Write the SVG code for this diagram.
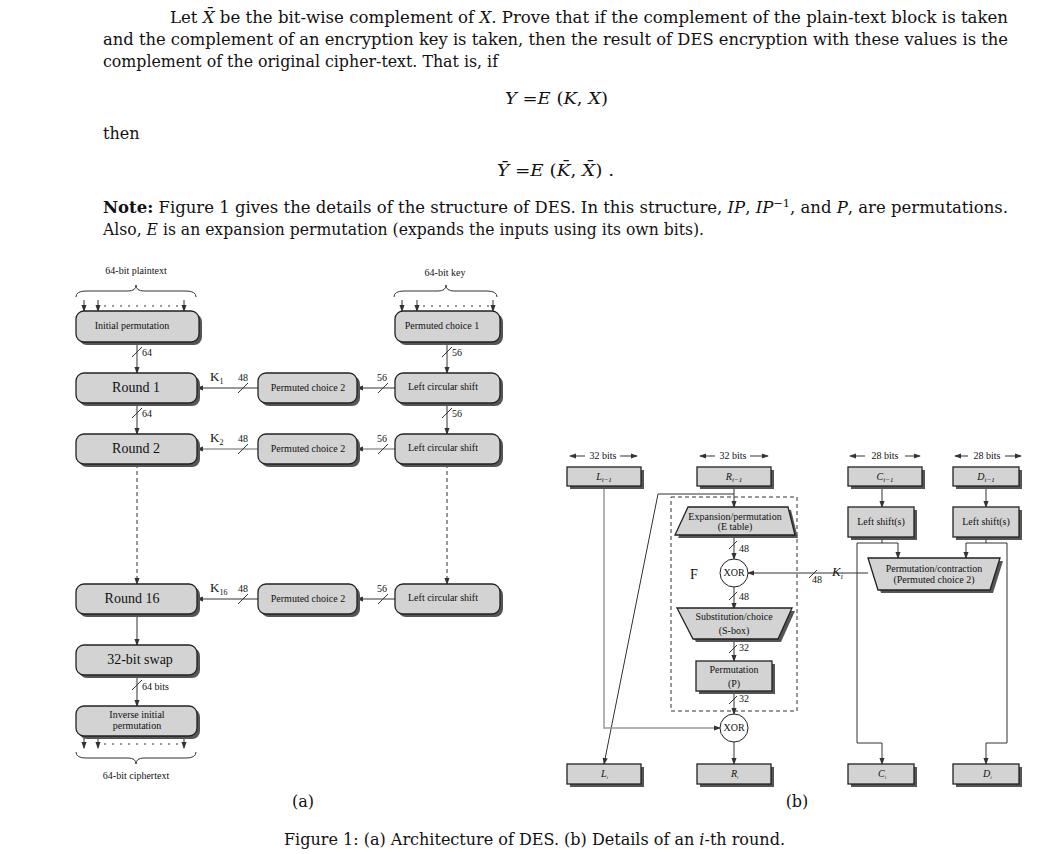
<svg xmlns="http://www.w3.org/2000/svg" width="1051" height="854" viewBox="0 0 1051 854">
<style>
text{font-family:"Liberation Serif",serif;fill:#111}
.p{font-size:16px;font-family:"DejaVu Serif",serif}
.s{font-size:10px}
.m{font-size:13px}
.r{font-size:14px}
.i{font-style:italic}
.box{fill:#d3d3d3;stroke:#222;stroke-width:1.3}
.sh{fill:#555}
.ln{stroke:#333;stroke-width:1;fill:none}
.gl{stroke:#999;stroke-width:1.5;fill:none}
.da{stroke:#333;stroke-width:1;fill:none;stroke-dasharray:4,3}
</style>
<defs>
<marker id="a" viewBox="0 0 8 8" refX="7" refY="4" markerWidth="7" markerHeight="7" orient="auto" markerUnits="userSpaceOnUse"><path d="M0,1 L8,4 L0,7 z" fill="#333"/></marker>
</defs>
<g id="text">
<text class="p" x="170" y="23" textLength="838" lengthAdjust="spacingAndGlyphs">Let <tspan class="i">X̄</tspan> be the bit-wise complement of <tspan class="i">X</tspan>. Prove that if the complement of the plain-text block is taken</text>
<text class="p" x="103" y="45" textLength="905" lengthAdjust="spacingAndGlyphs">and the complement of an encryption key is taken, then the result of DES encryption with these values is the</text>
<text class="p" x="103" y="67" textLength="395" lengthAdjust="spacingAndGlyphs">complement of the original cipher-text. That is, if</text>
<text class="p" x="505" y="104" textLength="103" lengthAdjust="spacingAndGlyphs"><tspan class="i">Y</tspan> =<tspan class="i">E</tspan> (<tspan class="i">K</tspan>, <tspan class="i">X</tspan>)</text>
<text class="p" x="103" y="139">then</text>
<text class="p" x="497" y="176" textLength="117" lengthAdjust="spacingAndGlyphs"><tspan class="i">Ȳ</tspan> =<tspan class="i">E</tspan> (<tspan class="i">K̄</tspan>, <tspan class="i">X̄</tspan>) .</text>
<text class="p" x="103" y="213" textLength="905" lengthAdjust="spacingAndGlyphs"><tspan font-weight="bold">Note:</tspan> Figure 1 gives the details of the structure of DES. In this structure, <tspan class="i">IP</tspan>, <tspan class="i">IP</tspan><tspan font-size="11" dy="-6">−1</tspan><tspan dy="6">, and </tspan><tspan class="i">P</tspan>, are permutations.</text>
<text class="p" x="103" y="235" textLength="601" lengthAdjust="spacingAndGlyphs">Also, <tspan class="i">E</tspan> is an expansion permutation (expands the inputs using its own bits).</text>
<text class="p" x="303" y="807" text-anchor="middle">(a)</text>
<text class="p" x="797" y="807" text-anchor="middle">(b)</text>
<text class="p" x="284" y="845" textLength="501" lengthAdjust="spacingAndGlyphs">Figure 1: (a) Architecture of DES. (b) Details of an <tspan class="i">i</tspan>-th round.</text>
</g>

<g id="connectors">
<path class="ln" d="M76,297 Q76,291 86,291 L128,291 Q136,291 136,285 Q136,291 144,291 L186,291 Q196,291 196,297"/>
<path class="ln" d="M394,297 Q394,291 404,291 L438,291 Q446,291 446,285 Q446,291 454,291 L487,291 Q497,291 497,297"/>
<line class="ln" x1="84" y1="300" x2="84" y2="311" marker-end="url(#a)"/>
<line class="ln" x1="98" y1="300" x2="98" y2="311" marker-end="url(#a)"/>
<line class="ln" x1="184" y1="300" x2="184" y2="311" marker-end="url(#a)"/>
<line class="ln" x1="402" y1="300" x2="402" y2="311" marker-end="url(#a)"/>
<line class="ln" x1="417" y1="300" x2="417" y2="311" marker-end="url(#a)"/>
<line class="ln" x1="493" y1="300" x2="493" y2="311" marker-end="url(#a)"/>
<path class="ln" stroke-dasharray="2,6" stroke-width="2.5" d="M104,306 H178 M423,306 H490"/>
<line class="ln" x1="137" y1="342" x2="137" y2="373" marker-end="url(#a)"/>
<line class="ln" x1="137" y1="403" x2="137" y2="434" marker-end="url(#a)"/>
<line class="da" x1="137" y1="464" x2="137" y2="584" marker-end="url(#a)" stroke-dasharray="6,4"/>
<line class="ln" x1="137" y1="614" x2="137" y2="645" marker-end="url(#a)"/>
<line class="ln" x1="137" y1="675" x2="137" y2="706" marker-end="url(#a)"/>
<line class="ln" x1="447" y1="342" x2="447" y2="373" marker-end="url(#a)"/>
<line class="ln" x1="447" y1="403" x2="447" y2="434" marker-end="url(#a)"/>
<line class="da" x1="447" y1="464" x2="447" y2="584" marker-end="url(#a)" stroke-dasharray="6,4"/>
<path class="ln" d="M132,357 l10,-10 M132,418 l10,-10 M132,690 l10,-10 M442,357 l10,-10 M442,418 l10,-10"/>
<line class="ln" x1="258" y1="388" x2="197" y2="388" marker-end="url(#a)"/>
<line class="ln" x1="395" y1="388" x2="357" y2="388" marker-end="url(#a)"/>
<line class="gl" x1="258" y1="449" x2="197" y2="449" marker-end="url(#a)"/>
<line class="gl" x1="395" y1="449" x2="357" y2="449" marker-end="url(#a)"/>
<line class="ln" x1="258" y1="599" x2="197" y2="599" marker-end="url(#a)"/>
<line class="ln" x1="395" y1="599" x2="357" y2="599" marker-end="url(#a)"/>
<path class="ln" d="M238,393 l10,-10 M378,393 l10,-10 M238,454 l10,-10 M378,454 l10,-10 M238,604 l10,-10 M378,604 l10,-10"/>
<line class="ln" x1="84" y1="737" x2="84" y2="748" marker-end="url(#a)"/>
<line class="ln" x1="98" y1="737" x2="98" y2="748" marker-end="url(#a)"/>
<line class="ln" x1="184" y1="737" x2="184" y2="748" marker-end="url(#a)"/>
<path class="ln" stroke-dasharray="2,6" stroke-width="2.5" d="M104,744 H178"/>
<path class="ln" d="M76,752 Q76,758 86,758 L128,758 Q136,758 136,764 Q136,758 144,758 L186,758 Q196,758 196,752"/>

<line class="ln" x1="585" y1="456" x2="570" y2="456" marker-end="url(#a)"/>
<line class="ln" x1="620" y1="456" x2="637" y2="456" marker-end="url(#a)"/>
<line class="ln" x1="715" y1="456" x2="700" y2="456" marker-end="url(#a)"/>
<line class="ln" x1="750" y1="456" x2="768" y2="456" marker-end="url(#a)"/>
<line class="ln" x1="865" y1="456" x2="850" y2="456" marker-end="url(#a)"/>
<line class="ln" x1="905" y1="456" x2="920" y2="456" marker-end="url(#a)"/>
<line class="ln" x1="968" y1="456" x2="955" y2="456" marker-end="url(#a)"/>
<line class="ln" x1="1005" y1="456" x2="1021" y2="456" marker-end="url(#a)"/>
<path class="ln" d="M734,486 V494 H658 L604,764" marker-end="url(#a)"/>
<line class="ln" x1="734" y1="494" x2="734" y2="507" marker-end="url(#a)"/>
<rect class="da" x="671" y="497" width="126" height="214"/>
<line class="ln" x1="734" y1="536" x2="734" y2="559" marker-end="url(#a)"/>
<line class="ln" x1="734" y1="587" x2="734" y2="609" marker-end="url(#a)"/>
<line class="ln" x1="734" y1="640" x2="734" y2="661" marker-end="url(#a)"/>
<line class="ln" x1="734" y1="691" x2="734" y2="714" marker-end="url(#a)"/>
<line class="ln" x1="734" y1="742" x2="734" y2="764" marker-end="url(#a)"/>
<path class="ln" d="M729,549 l8,-8 M729,600 l8,-8 M729,653 l8,-8 M729,704 l8,-8 M809,578 l8,-8"/>
<line class="ln" x1="868" y1="573" x2="748" y2="573" marker-end="url(#a)"/>
<path class="gl" d="M604,486 V728 H720" marker-end="url(#a)"/>
<line class="ln" x1="882" y1="486" x2="882" y2="507" marker-end="url(#a)"/>
<line class="ln" x1="986" y1="486" x2="986" y2="507" marker-end="url(#a)"/>
<path class="ln" d="M882,537 V543 H898 V558" marker-end="url(#a)"/>
<path class="ln" d="M882,543 H857 V743 H882 V764" marker-end="url(#a)"/>
<path class="ln" d="M986,537 V543 H966 V558" marker-end="url(#a)"/>
<path class="ln" d="M986,543 H1007 V743 H986 V764" marker-end="url(#a)"/>
</g>

<g id="initial-permutation"><rect class="sh" x="79" y="314" width="123" height="31" rx="8"/><rect class="box" x="76" y="311" width="123" height="31" rx="8"/><text class="s" x="132" y="329" text-anchor="middle">Initial permutation</text></g>
<g id="round1"><rect class="sh" x="79" y="376" width="121" height="30" rx="8"/><rect class="box" x="76" y="373" width="121" height="30" rx="8"/><text class="r" x="136" y="392" text-anchor="middle">Round 1</text></g>
<g id="round2"><rect class="sh" x="79" y="437" width="121" height="30" rx="8"/><rect class="box" x="76" y="434" width="121" height="30" rx="8"/><text class="r" x="136" y="453" text-anchor="middle">Round 2</text></g>
<g id="round16"><rect class="sh" x="79" y="587" width="121" height="30" rx="8"/><rect class="box" x="76" y="584" width="121" height="30" rx="8"/><text class="r" x="132" y="603" text-anchor="middle">Round 16</text></g>
<g id="swap"><rect class="sh" x="79" y="648" width="121" height="30" rx="8"/><rect class="box" x="76" y="645" width="121" height="30" rx="8"/><text class="r" x="140" y="664" text-anchor="middle">32-bit swap</text></g>
<g id="inverse-ip"><rect class="sh" x="79" y="709" width="121" height="30" rx="8"/><rect class="box" x="76" y="706" width="121" height="30" rx="8"/><text class="s" x="137" y="718" text-anchor="middle">Inverse initial</text><text class="s" x="137" y="729" text-anchor="middle">permutation</text></g>
<g id="pc1"><rect class="sh" x="398" y="314" width="105" height="31" rx="8"/><rect class="box" x="395" y="311" width="105" height="31" rx="8"/><text class="s" x="442" y="329" text-anchor="middle">Permuted choice 1</text></g>
<g id="lcs1"><rect class="sh" x="398" y="376" width="105" height="30" rx="8"/><rect class="box" x="395" y="373" width="105" height="30" rx="8"/><text class="s" x="443" y="390" text-anchor="middle">Left circular shift</text></g>
<g id="lcs2"><rect class="sh" x="398" y="437" width="105" height="30" rx="8"/><rect class="box" x="395" y="434" width="105" height="30" rx="8"/><text class="s" x="443" y="451" text-anchor="middle">Left circular shift</text></g>
<g id="lcs16"><rect class="sh" x="398" y="587" width="105" height="30" rx="8"/><rect class="box" x="395" y="584" width="105" height="30" rx="8"/><text class="s" x="443" y="601" text-anchor="middle">Left circular shift</text></g>
<g id="pc2-1"><rect class="sh" x="261" y="376" width="99" height="30" rx="8"/><rect class="box" x="258" y="373" width="99" height="30" rx="8"/><text class="s" x="308" y="391" text-anchor="middle">Permuted choice 2</text></g>
<g id="pc2-2"><rect class="sh" x="261" y="437" width="99" height="30" rx="8"/><rect class="box" x="258" y="434" width="99" height="30" rx="8"/><text class="s" x="308" y="452" text-anchor="middle">Permuted choice 2</text></g>
<g id="pc2-16"><rect class="sh" x="261" y="587" width="99" height="30" rx="8"/><rect class="box" x="258" y="584" width="99" height="30" rx="8"/><text class="s" x="308" y="602" text-anchor="middle">Permuted choice 2</text></g>
<g id="left-labels">
<text class="s" x="136" y="274" text-anchor="middle">64-bit plaintext</text>
<text class="s" x="445" y="276" text-anchor="middle">64-bit key</text>
<text class="s" x="142" y="356">64</text><text class="s" x="142" y="417">64</text><text class="s" x="142" y="690">64 bits</text>
<text class="s" x="452" y="356">56</text><text class="s" x="452" y="417">56</text>
<text class="m" x="210" y="381">K<tspan font-size="8" dy="3">1</tspan></text><text class="s" x="238" y="381">48</text><text class="s" x="377" y="381">56</text>
<text class="m" x="210" y="442">K<tspan font-size="8" dy="3">2</tspan></text><text class="s" x="238" y="442">48</text><text class="s" x="377" y="442">56</text>
<text class="m" x="210" y="592">K<tspan font-size="8" dy="3">16</tspan></text><text class="s" x="238" y="592">48</text><text class="s" x="377" y="592">56</text>
<text class="s" x="136" y="779" text-anchor="middle">64-bit ciphertext</text>
</g>

<g id="Li-1"><rect class="sh" x="570" y="470" width="74" height="19"/><rect class="box" x="567" y="467" width="74" height="19"/><text class="s i" x="604" y="480" text-anchor="middle">L<tspan font-size="7" dy="2">i−1</tspan></text></g>
<g id="Ri-1"><rect class="sh" x="700" y="470" width="74" height="19"/><rect class="box" x="697" y="467" width="74" height="19"/><text class="s i" x="734" y="480" text-anchor="middle">R<tspan font-size="7" dy="2">i−1</tspan></text></g>
<g id="Ci-1"><rect class="sh" x="851" y="470" width="74" height="19"/><rect class="box" x="848" y="467" width="74" height="19"/><text class="s i" x="885" y="480" text-anchor="middle">C<tspan font-size="7" dy="2">i−1</tspan></text></g>
<g id="Di-1"><rect class="sh" x="956" y="470" width="66" height="19"/><rect class="box" x="953" y="467" width="66" height="19"/><text class="s i" x="986" y="480" text-anchor="middle">D<tspan font-size="7" dy="2">i−1</tspan></text></g>
<g id="ls-c"><rect class="sh" x="851" y="510" width="66" height="30"/><rect class="box" x="848" y="507" width="66" height="30"/><text class="s" x="881" y="525" font-size="9" text-anchor="middle">Left shift(s)</text></g>
<g id="ls-d"><rect class="sh" x="956" y="510" width="66" height="30"/><rect class="box" x="953" y="507" width="66" height="30"/><text class="s" x="986" y="525" font-size="9" text-anchor="middle">Left shift(s)</text></g>
<g id="expansion"><polygon class="sh" points="691,510 791,510 798,538 678,538"/><polygon class="box" points="688,507 788,507 795,535 675,535"/><text class="s" x="735" y="520" font-size="9" text-anchor="middle">Expansion/permutation</text><text class="s" x="735" y="530" font-size="8" text-anchor="middle">(E table)</text></g>
<g id="xor1"><circle cx="734" cy="573" r="14" fill="#fff" stroke="#222"/><text class="s" x="734" y="576" font-size="8" text-anchor="middle">XOR</text></g>
<text class="r" x="690" y="579">F</text>
<text class="s" x="812" y="583">48</text>
<text class="m i" x="832" y="576">K<tspan font-size="8" dy="3">i</tspan></text>
<g id="sbox"><polygon class="sh" points="680,611 795,611 781,642 696,642"/><polygon class="box" points="677,608 792,608 778,639 693,639"/><text class="s" x="734" y="620" text-anchor="middle">Substitution/choice</text><text class="s" x="734" y="634" text-anchor="middle">(S-box)</text></g>
<text class="s" x="739" y="552" font-size="9">48</text><text class="s" x="739" y="600" font-size="9">48</text><text class="s" x="739" y="651" font-size="9">32</text><text class="s" x="739" y="702" font-size="9">32</text>
<g id="perm"><rect class="sh" x="699" y="664" width="76" height="30"/><rect class="box" x="696" y="661" width="76" height="30"/><text class="s" x="734" y="673" text-anchor="middle">Permutation</text><text class="s" x="734" y="687" text-anchor="middle">(P)</text></g>
<g id="xor2"><circle cx="734" cy="728" r="14" fill="#fff" stroke="#222"/><text class="s" x="734" y="731" font-size="8" text-anchor="middle">XOR</text></g>
<g id="pc2-b"><polygon class="sh" points="871,561 1003,561 993,593 881,593"/><polygon class="box" points="868,558 1000,558 990,590 878,590"/><text class="s" x="934" y="572" font-size="9" text-anchor="middle">Permutation/contraction</text><text class="s" x="934" y="583" font-size="9" text-anchor="middle">(Permuted choice 2)</text></g>
<g id="Li"><rect class="sh" x="570" y="767" width="74" height="20"/><rect class="box" x="567" y="764" width="74" height="20"/><text class="s i" x="601" y="777" font-size="7">L<tspan dy="2" font-size="5">i</tspan></text></g>
<g id="Ri"><rect class="sh" x="700" y="767" width="74" height="20"/><rect class="box" x="697" y="764" width="74" height="20"/><text class="s i" x="731" y="777" font-size="7">R<tspan dy="2" font-size="5">i</tspan></text></g>
<g id="Ci"><rect class="sh" x="851" y="767" width="66" height="20"/><rect class="box" x="848" y="764" width="66" height="20"/><text class="s i" x="878" y="777" font-size="7">C<tspan dy="2" font-size="5">i</tspan></text></g>
<g id="Di"><rect class="sh" x="956" y="767" width="66" height="20"/><rect class="box" x="953" y="764" width="66" height="20"/><text class="s i" x="983" y="777" font-size="8">D<tspan dy="2" font-size="5">i</tspan></text></g>
<g id="bits-labels">
<text class="s" x="603" y="459" font-size="8" text-anchor="middle">32 bits</text>
<text class="s" x="733" y="459" font-size="8" text-anchor="middle">32 bits</text>
<text class="s" x="885" y="459" font-size="8" text-anchor="middle">28 bits</text>
<text class="s" x="987" y="459" font-size="8" text-anchor="middle">28 bits</text>
</g>
</svg>
